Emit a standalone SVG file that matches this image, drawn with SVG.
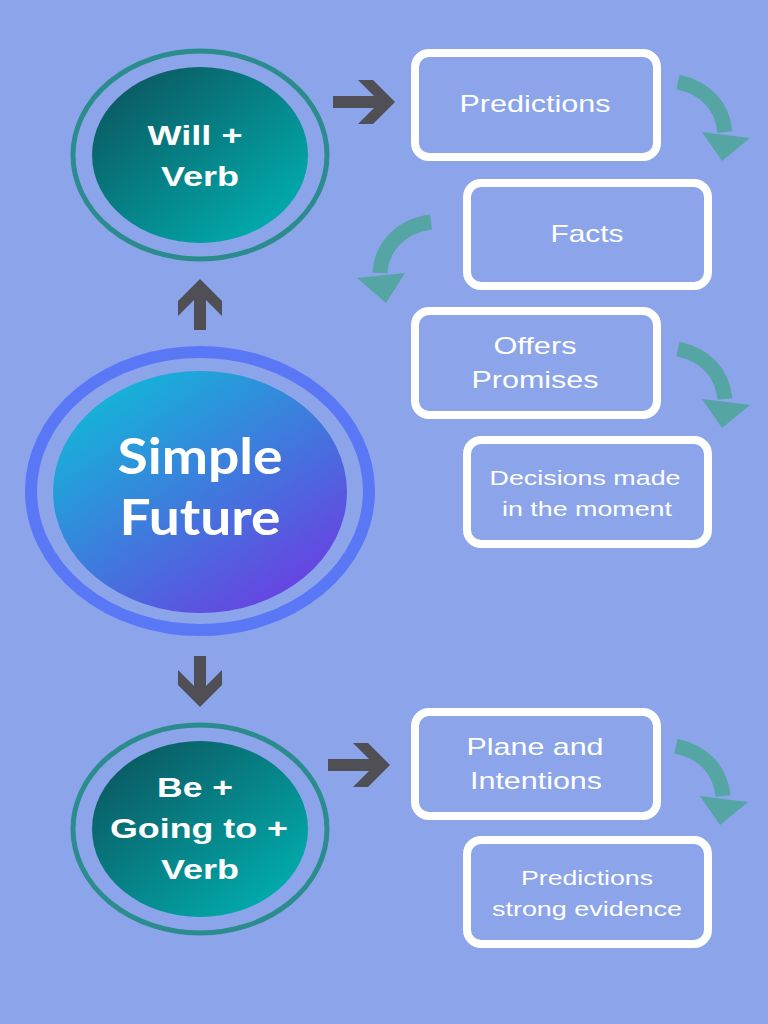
<svg xmlns="http://www.w3.org/2000/svg" width="768" height="1024" viewBox="0 0 768 1024">
<style>
.box{fill:none;stroke:#fff;stroke-width:8}
.bt{fill:#fff;font-family:"Liberation Sans",Arial,sans-serif;font-size:24px;text-anchor:middle}
.bs{font-size:21px}
.ct{fill:#fff;font-family:"Liberation Sans",Arial,sans-serif;font-weight:bold;font-size:28px;text-anchor:middle}
.dk{fill:#4f4f55}
.tl{fill:#55a5a5}
.ta{fill:none;stroke:#55a5a5;stroke-width:15}
</style>
<defs>
<linearGradient id="gt" x1="0" y1="0" x2="1" y2="1"><stop offset="0" stop-color="#0c4f58"/><stop offset="1" stop-color="#00b8b8"/></linearGradient>
<linearGradient id="gc" x1="0.15" y1="0.1" x2="0.85" y2="0.95"><stop offset="0" stop-color="#14b4d8"/><stop offset="1" stop-color="#6b3ee2"/></linearGradient>
</defs>
<rect width="768" height="1024" fill="#8ba4ea"/>
<g id="will">
<ellipse cx="200" cy="155" rx="127" ry="104" fill="none" stroke="#2a8c8c" stroke-width="5"/>
<ellipse cx="200" cy="155" rx="108" ry="88" fill="url(#gt)"/>
<text class="ct" x="195" y="145" textLength="95" lengthAdjust="spacingAndGlyphs">Will +</text><text class="ct" x="200" y="186" textLength="78" lengthAdjust="spacingAndGlyphs">Verb</text>
</g>
<g id="simple">
<ellipse cx="200" cy="491" rx="169" ry="139" fill="none" stroke="#5a78f5" stroke-width="12"/>
<ellipse cx="200" cy="492" rx="147" ry="121" fill="url(#gc)"/>
<text x="200" y="474" fill="#fff" font-family="Lato,sans-serif" font-weight="bold" font-size="50" text-anchor="middle" textLength="165" lengthAdjust="spacingAndGlyphs">Simple</text>
<text x="200" y="535" fill="#fff" font-family="Lato,sans-serif" font-weight="bold" font-size="50" text-anchor="middle" textLength="161" lengthAdjust="spacingAndGlyphs">Future</text>
</g>
<g id="going">
<ellipse cx="200" cy="829" rx="127" ry="104" fill="none" stroke="#2a8c8c" stroke-width="5"/>
<ellipse cx="200" cy="829" rx="108" ry="88" fill="url(#gt)"/>
<text class="ct" x="195" y="797" textLength="76" lengthAdjust="spacingAndGlyphs">Be +</text><text class="ct" x="199" y="838" textLength="178" lengthAdjust="spacingAndGlyphs">Going to +</text><text class="ct" x="200" y="879" textLength="78" lengthAdjust="spacingAndGlyphs">Verb</text>
</g>
<g id="b1"><rect class="box" x="415" y="53" width="242" height="104" rx="14"/><text class="bt" x="535" y="112" textLength="151" lengthAdjust="spacingAndGlyphs">Predictions</text></g>
<g id="b2"><rect class="box" x="467" y="183" width="241" height="103" rx="14"/><text class="bt" x="587" y="242" textLength="73" lengthAdjust="spacingAndGlyphs">Facts</text></g>
<g id="b3"><rect class="box" x="415" y="311" width="242" height="104" rx="14"/><text class="bt" x="535" y="354" textLength="83" lengthAdjust="spacingAndGlyphs">Offers</text><text class="bt" x="535" y="388" textLength="127" lengthAdjust="spacingAndGlyphs">Promises</text></g>
<g id="b4"><rect class="box" x="467" y="440" width="241" height="104" rx="14"/><text class="bt bs" x="585" y="485" textLength="191" lengthAdjust="spacingAndGlyphs">Decisions made</text><text class="bt bs" x="587" y="516" textLength="170" lengthAdjust="spacingAndGlyphs">in the moment</text></g>
<g id="b5"><rect class="box" x="415" y="712" width="242" height="104" rx="14"/><text class="bt" x="535" y="755" textLength="137" lengthAdjust="spacingAndGlyphs">Plane and</text><text class="bt" x="536" y="789" textLength="132" lengthAdjust="spacingAndGlyphs">Intentions</text></g>
<g id="b6"><rect class="box" x="467" y="840" width="241" height="104" rx="14"/><text class="bt bs" x="587" y="885" textLength="132" lengthAdjust="spacingAndGlyphs">Predictions</text><text class="bt bs" x="587" y="916" textLength="190" lengthAdjust="spacingAndGlyphs">strong evidence</text></g>
<g id="connectors">
<path class="dk" d="M333,96 H374 L358,80 H373 L395,102 L373,124 H358 L374,108 H333Z"/>
<path class="dk" d="M328,759 H369 L353,743 H368 L390,765 L368,787 H353 L369,771 H328Z"/>
<path class="dk" d="M194,330 V300 L178,316 V301 L200,279 L222,301 V316 L206,300 V330Z"/>
<path class="dk" d="M194,656 V686 L178,670 V685 L200,707 L222,685 V670 L206,686 V656Z"/>
<path class="ta" d="M678,82 C705,88 722,105 725,132"/><path class="tl" d="M702,132 L750,138 L722,161Z"/>
<path class="ta" d="M678,349 C705,355 722,372 725,399"/><path class="tl" d="M702,399 L750,405 L722,428Z"/>
<path class="ta" d="M676,746 C703,752 720,769 723,796"/><path class="tl" d="M700,796 L748,802 L720,825Z"/>
<path class="ta" d="M431,222 C400,226 381,248 380,273"/><path class="tl" d="M357,278 L405,273 L386,303Z"/>
</g>
</svg>
